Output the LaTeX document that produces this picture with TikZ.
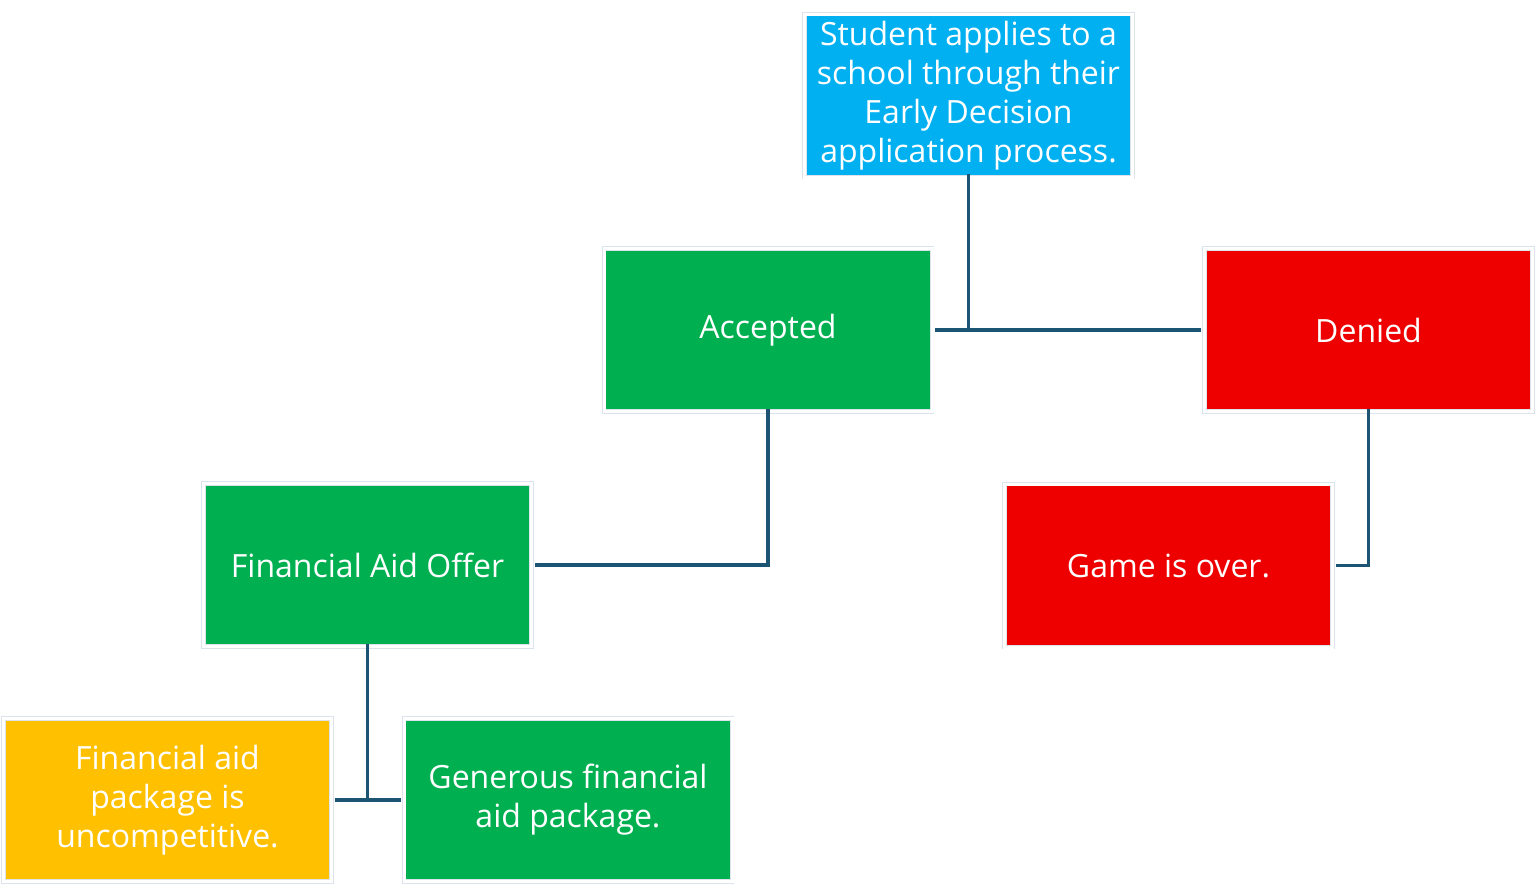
\documentclass[tikz,border=0pt]{standalone}
\usepackage{fontspec}
\setmainfont[Ligatures=NoCommon]{Open Sans}
\definecolor{cblue}{HTML}{00B0F0}
\definecolor{cgreen}{HTML}{00B050}
\definecolor{cred}{HTML}{EE0000}
\definecolor{cyellow}{HTML}{FFC000}
\definecolor{cline}{HTML}{1B5573}
\definecolor{cframe}{HTML}{DDE3EA}
\begin{document}
\begin{tikzpicture}[x=1pt,y=-1pt,
  box/.style={minimum width=328pt,minimum height=163pt,inner sep=0pt,align=center,
    text=white,font=\fontsize{32}{39}\selectfont,draw=cframe,line width=0.6pt,
    double=white,double distance=3pt},
  conn/.style={draw=cline,line width=3.5pt}]
\useasboundingbox (0,0) rectangle (1536,895);
\node[box,fill=cblue] (top) at (968.5,95.5) {Student applies to a\\school through their\\Early Decision\\application process.};
\node[box,fill=cgreen] (acc) at (768,330) {Accepted};
\node[box,fill=cred] (den) at (1368.5,330) {Denied};
\node[box,fill=cgreen] (fao) at (367.5,565) {Financial Aid Offer};
\node[box,fill=cred] (over) at (1168.5,565.5) {Game is over.};
\node[box,fill=cyellow] (unc) at (167.5,800) {Financial aid\\package is\\uncompetitive.};
\node[box,fill=cgreen] (gen) at (568,800) {Generous financial\\aid package.};
\coordinate (j1) at (top.south |- acc.east);
\coordinate (j2) at (fao.south |- unc.east);
\draw[conn] ([yshift=3pt]top.south) -- (j1);
\draw[conn] ([xshift=3pt]acc.east) -- ([xshift=-3pt]den.west);
\draw[conn] ([yshift=3pt]acc.south) |- ([xshift=3pt]fao.east);
\draw[conn] ([yshift=3pt]den.south) |- ([xshift=3pt]over.east);
\draw[conn] ([yshift=3pt]fao.south) -- (j2);
\draw[conn] ([xshift=3pt]unc.east) -- ([xshift=-3pt]gen.west);
\end{tikzpicture}
\end{document}
